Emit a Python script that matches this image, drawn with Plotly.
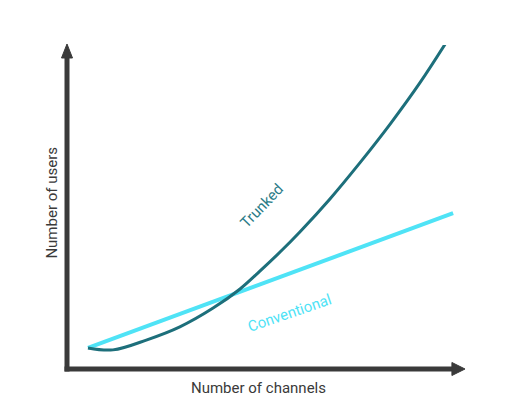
import plotly.graph_objects as go

# curve values (channels vs users, arbitrary units)
channels_trunked = [0.53, 1.16, 2.02, 2.85, 3.69, 4.37, 4.87, 5.38, 5.88, 6.64, 7.40, 8.16, 8.91, 9.55]
users_trunked = [0.65, 0.59, 0.90, 1.30, 1.88, 2.47, 3.02, 3.61, 4.23, 5.25, 6.37, 7.56, 8.83, 10.03]

channels_conv = [0.53, 9.75]
users_conv = [0.65, 4.81]

dark = "#1d6f7b"
cyan = "#4fe3f6"
axis_col = "#3a3a3a"
font = "Roboto, Inter, sans-serif"

fig = go.Figure()
fig.add_trace(go.Scatter(x=channels_conv, y=users_conv, mode="lines",
                         line=dict(color=cyan, width=4), name="Conventional"))
fig.add_trace(go.Scatter(x=channels_trunked, y=users_trunked, mode="lines",
                         line=dict(color=dark, width=3, shape="spline"), name="Trunked"))

# axes with arrow heads (paper coords, no ticks in the original)
fig.add_shape(type="line", xref="paper", yref="paper", x0=-0.0063, x1=0.973, y0=0, y1=0,
              line=dict(color=axis_col, width=5))
fig.add_shape(type="path", xref="paper", yref="paper",
              path="M 0.972 0.0201 L 1.0051 0 L 0.972 -0.0201 Z",
              fillcolor=axis_col, line=dict(color=axis_col, width=1))
fig.add_shape(type="line", xref="paper", yref="paper", x0=0, x1=0, y0=-0.0077, y1=0.961,
              line=dict(color=axis_col, width=5))
fig.add_shape(type="path", xref="paper", yref="paper",
              path="M -0.0139 0.9599 L 0 1.0031 L 0.0139 0.9599 Z",
              fillcolor=axis_col, line=dict(color=axis_col, width=1))

# curve labels
fig.add_annotation(x=4.92, y=5.03, text="Trunked", showarrow=False, textangle=-46,
                   font=dict(family=font, size=15, color="#2b7c88"))
fig.add_annotation(x=5.63, y=1.72, text="Conventional", showarrow=False, textangle=-19,
                   font=dict(family=font, size=15, color=cyan))

# axis titles
fig.add_annotation(x=0.483, y=-0.059, xref="paper", yref="paper", yanchor="middle",
                   text="Number of channels", showarrow=False,
                   font=dict(family=font, size=15, color="#3a3a3a"))
fig.add_annotation(x=-0.0366, y=0.512, xref="paper", yref="paper",
                   xanchor="center", yanchor="middle",
                   text="Number of users", showarrow=False, textangle=-90,
                   font=dict(family=font, size=15, color="#3a3a3a"))

fig.update_xaxes(range=[0, 10], visible=False, fixedrange=True)
fig.update_yaxes(range=[0, 10], visible=False, fixedrange=True)
# page body adds 8px, so the figure is a bit smaller than the window
fig.update_layout(width=500, height=399, showlegend=False,
                  margin=dict(l=59, r=45, t=37, b=38),
                  plot_bgcolor="white", paper_bgcolor="white")

fig.write_html("out.html")
